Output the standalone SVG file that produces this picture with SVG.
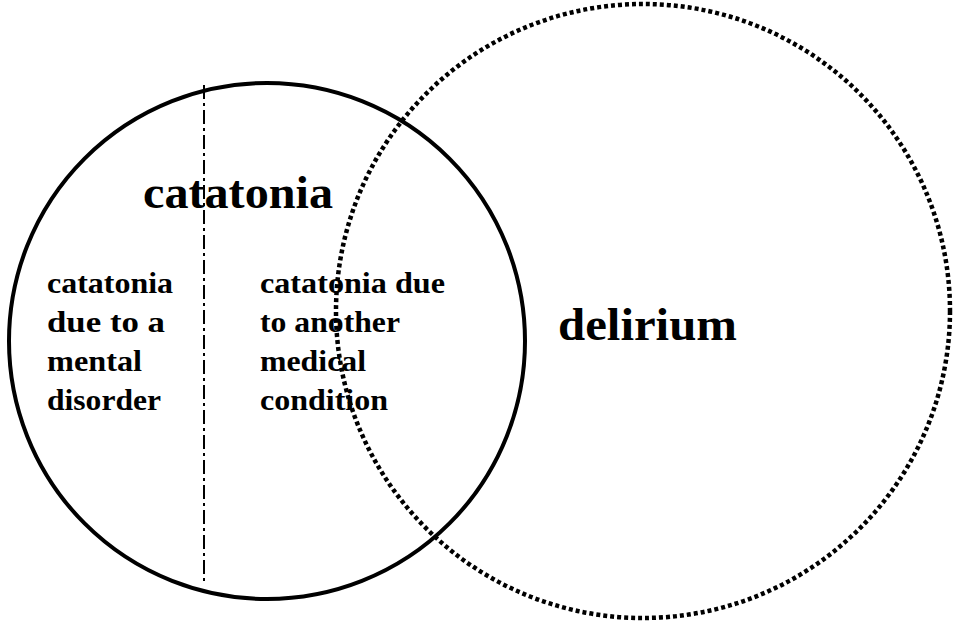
<svg xmlns="http://www.w3.org/2000/svg" width="957" height="626" viewBox="0 0 957 626">
<style>
text{font-family:"Liberation Serif",serif;font-weight:bold;fill:#000}
.big{font-size:47px}
.sm{font-size:29px}
</style>
<rect width="957" height="626" fill="#fff"/>
<g id="connectors">
<line x1="204" y1="85" x2="204" y2="585" stroke="#000" stroke-width="2" stroke-dasharray="14 4 3 4"/>
</g>
<g id="catatonia">
<circle cx="267" cy="341" r="258" fill="none" stroke="#000" stroke-width="4"/>
<text class="big" x="143" y="208" textLength="190" lengthAdjust="spacingAndGlyphs">catatonia</text>
</g>
<g id="delirium">
<circle cx="643" cy="311" r="307" fill="none" stroke="#000" stroke-width="4.5" stroke-dasharray="4 3"/>
<text class="big" x="558" y="340" textLength="179" lengthAdjust="spacingAndGlyphs">delirium</text>
</g>
<g id="mental">
<text class="sm" x="47" y="293" textLength="126" lengthAdjust="spacingAndGlyphs">catatonia</text>
<text class="sm" x="47" y="332" textLength="118" lengthAdjust="spacingAndGlyphs">due to a</text>
<text class="sm" x="47" y="371" textLength="95" lengthAdjust="spacingAndGlyphs">mental</text>
<text class="sm" x="47" y="410" textLength="114" lengthAdjust="spacingAndGlyphs">disorder</text>
</g>
<g id="medical">
<text class="sm" x="260" y="293" textLength="185" lengthAdjust="spacingAndGlyphs">catatonia due</text>
<text class="sm" x="260" y="332" textLength="140" lengthAdjust="spacingAndGlyphs">to another</text>
<text class="sm" x="260" y="371" textLength="106" lengthAdjust="spacingAndGlyphs">medical</text>
<text class="sm" x="260" y="410" textLength="128" lengthAdjust="spacingAndGlyphs">condition</text>
</g>
</svg>
